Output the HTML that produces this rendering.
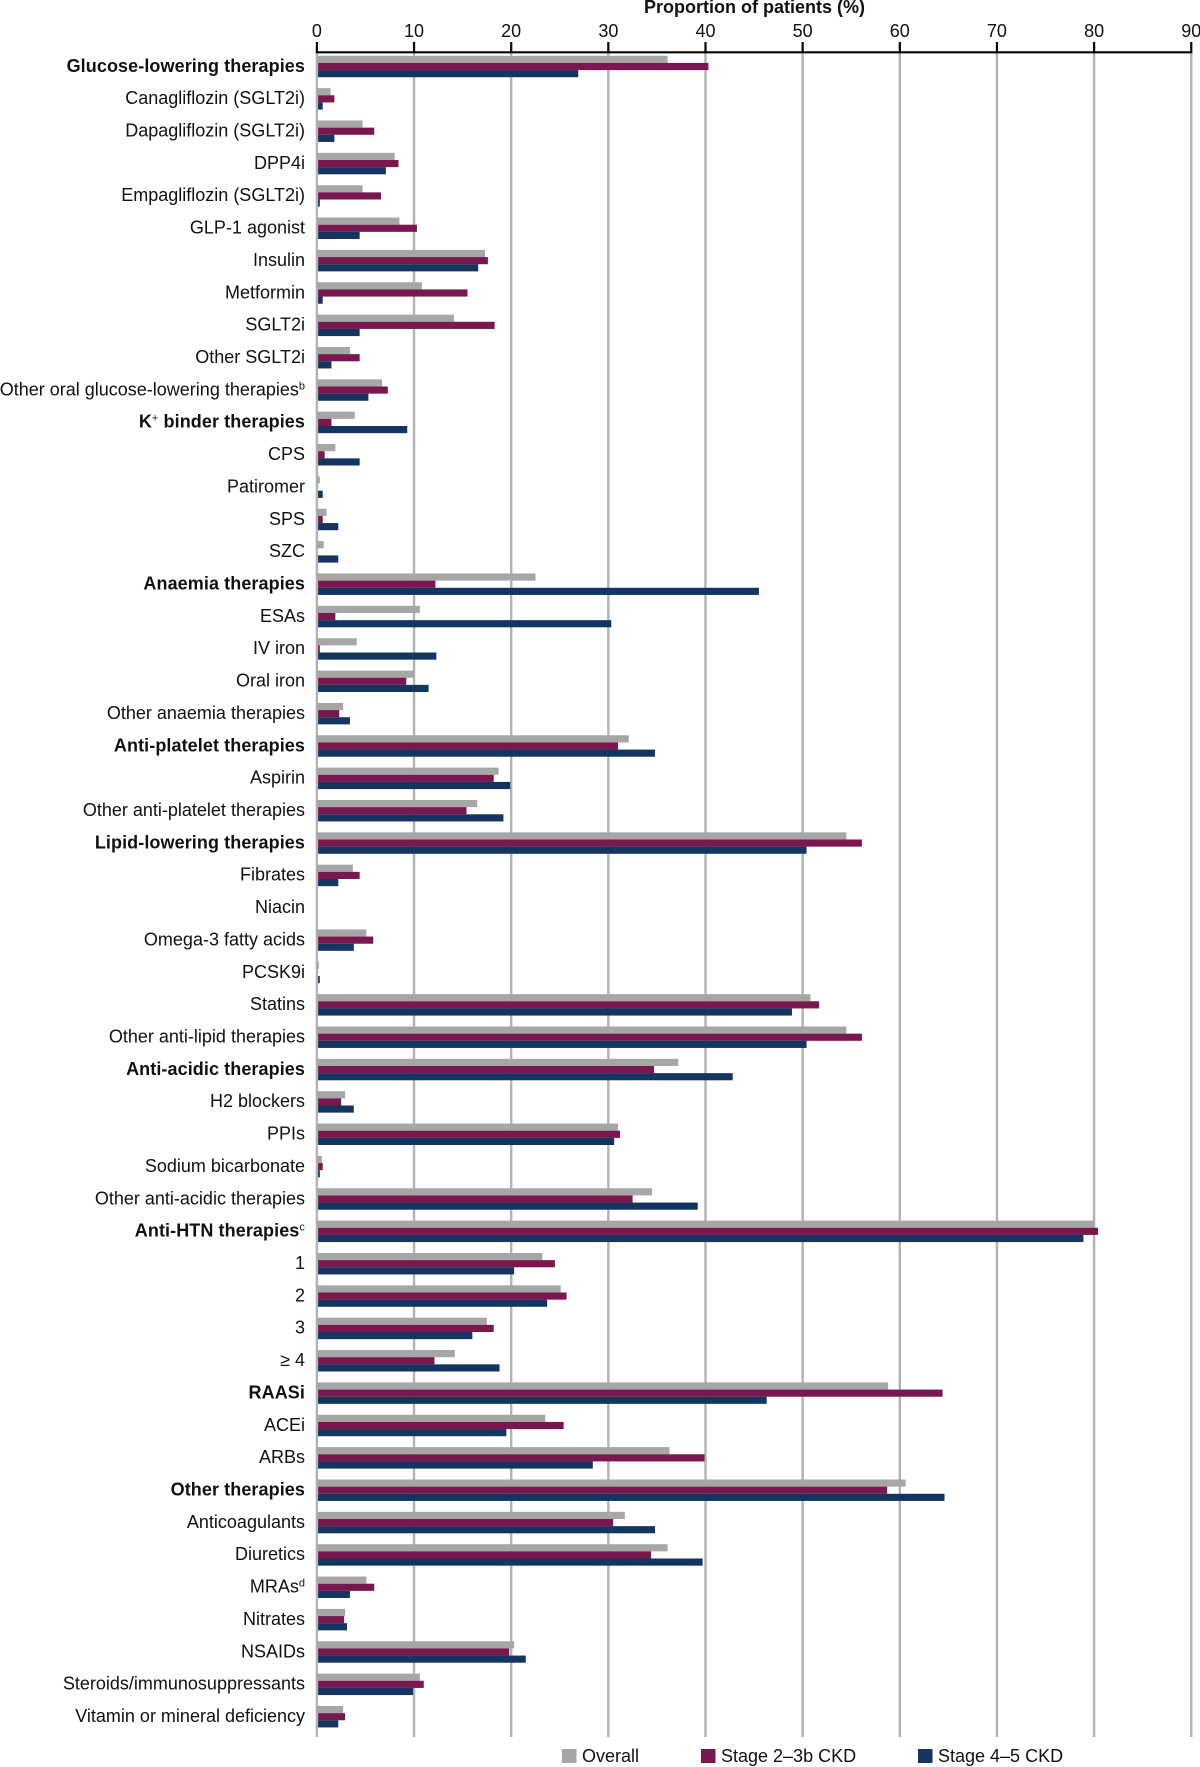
<!DOCTYPE html>
<html lang="en">
<head>
<meta charset="utf-8">
<title>Proportion of patients by therapy</title>
<style>
html,body{margin:0;padding:0;background:#fff;width:1200px;height:1767px;overflow:hidden}
svg{display:block;font-family:"Liberation Sans",Arial,sans-serif;filter:blur(0.35px)}
text{fill:#111}
</style>
</head>
<body>
<svg id="chart" xmlns="http://www.w3.org/2000/svg" width="1200" height="1767" viewBox="0 0 1200 1767"></svg>
<script>
const categories = [
"Glucose-lowering therapies","Canagliflozin (SGLT2i)","Dapagliflozin (SGLT2i)","DPP4i","Empagliflozin (SGLT2i)","GLP-1 agonist","Insulin","Metformin","SGLT2i","Other SGLT2i","Other oral glucose-lowering therapies^b^",
"K^+^ binder therapies","CPS","Patiromer","SPS","SZC",
"Anaemia therapies","ESAs","IV iron","Oral iron","Other anaemia therapies",
"Anti-platelet therapies","Aspirin","Other anti-platelet therapies",
"Lipid-lowering therapies","Fibrates","Niacin","Omega-3 fatty acids","PCSK9i","Statins","Other anti-lipid therapies",
"Anti-acidic therapies","H2 blockers","PPIs","Sodium bicarbonate","Other anti-acidic therapies",
"Anti-HTN therapies^c^","1","2","3","≥ 4",
"RAASi","ACEi","ARBs",
"Other therapies","Anticoagulants","Diuretics","MRAs^d^","Nitrates","NSAIDs","Steroids/immunosuppressants","Vitamin or mineral deficiency"
];
const boldCategories = ["Glucose-lowering therapies","K^+^ binder therapies","Anaemia therapies","Anti-platelet therapies","Lipid-lowering therapies","Anti-acidic therapies","Anti-HTN therapies^c^","RAASi","Other therapies"];
const overall = [36.1,1.4,4.7,8.0,4.7,8.5,17.3,10.8,14.1,3.4,6.7, 3.9,1.9,0.3,1.0,0.7, 22.5,10.6,4.1,10.0,2.7, 32.1,18.7,16.5, 54.5,3.7,0,5.1,0.2,50.8,54.5, 37.2,2.9,31.0,0.5,34.5, 80.0,23.2,25.1,17.5,14.2, 58.8,23.5,36.3, 60.6,31.7,36.1,5.1,2.9,20.3,10.6,2.7];
const stage23b = [40.3,1.8,5.9,8.4,6.6,10.3,17.6,15.5,18.3,4.4,7.3, 1.5,0.8,0,0.6,0, 12.2,1.9,0.3,9.2,2.3, 31.0,18.2,15.4, 56.1,4.4,0,5.8,0,51.7,56.1, 34.7,2.5,31.2,0.6,32.5, 80.4,24.5,25.7,18.2,12.1, 64.4,25.4,39.9, 58.7,30.5,34.4,5.9,2.8,19.8,11.0,2.9];
const stage45 = [26.9,0.6,1.8,7.1,0.3,4.4,16.6,0.6,4.4,1.5,5.3, 9.3,4.4,0.6,2.2,2.2, 45.5,30.3,12.3,11.5,3.4, 34.8,19.9,19.2, 50.4,2.2,0,3.8,0.3,48.9,50.4, 42.8,3.8,30.6,0.3,39.2, 78.9,20.3,23.7,16.0,18.8, 46.3,19.5,28.4, 64.6,34.8,39.7,3.4,3.1,21.5,9.9,2.2];
const xTicks = [0,10,20,30,40,50,60,70,80,90];
const seriesNames = ["Overall","Stage 2–3b CKD","Stage 4–5 CKD"];

const NS = "http://www.w3.org/2000/svg";
const svg = document.getElementById("chart");
const seriesValues = [overall, stage23b, stage45];
const seriesColors = ["#a6a6a6","#7a174e","#13355f"];
const X0 = 316.9, UNIT = 9.715, Y0 = 66.5, STEP = 32.357, BAR_H = 7.15;
const AXIS_Y = 52.3, GRID_BOTTOM = 1737, LABEL_X = 305;
const xScale = v => X0 + v * UNIT;
const yScale = i => Y0 + i * STEP;
const slug = s => s.toLowerCase().replace(/\^/g,"").replace(/[^a-z0-9]+/g,"-").replace(/^-|-$/g,"") || "item";

function make(tag, attrs, parent) {
  const el = document.createElementNS(NS, tag);
  for (const k in attrs) el.setAttribute(k, attrs[k]);
  (parent || svg).appendChild(el);
  return el;
}

// gridlines
xTicks.forEach(t => {
  const g = make("line", {x1:xScale(t), x2:xScale(t), y1:AXIS_Y, y2:GRID_BOTTOM, stroke:"#b3b3b3", "stroke-width":2.4});
  
  
});

// bars
categories.forEach((c, i) => {
  const group = make("g", {});
  
  
  seriesValues.forEach((vals, s) => {
    const v = vals[i];
    if (v <= 0) return;
    const left = X0 + 1.2;
    const w = Math.max(xScale(v) - left, 0.8);
    const r = make("rect", {x:left - (s === 0 ? 1.2 : 0), y:yScale(i) - 1.5 * BAR_H + s * BAR_H, width:w + (s === 0 ? 1.2 : 0), height:BAR_H, fill:seriesColors[s]}, group);
    
    
  });
  // category label
  const bold = boldCategories.includes(c);
  const label = make("text", {x:LABEL_X, y:yScale(i) + 5.3, "text-anchor":"end", "font-size":18, "font-weight":bold ? 700 : 400, "letter-spacing":bold ? 0.09 : 0});
  
  
  c.split("^").forEach((part, p) => {
    if (!part) return;
    const sup = p % 2 === 1;
    const ts = make("tspan", sup ? {"font-size":11, "font-weight":400, dy:-6} : {dy: p > 0 ? 6 : 0}, label);
    ts.textContent = part;
  });
});

// top axis
const axis = make("line", {x1:X0 - 1, x2:xScale(90) + 1, y1:AXIS_Y, y2:AXIS_Y, stroke:"#000", "stroke-width":2.2});


xTicks.forEach(t => {
  const tick = make("line", {x1:xScale(t), x2:xScale(t), y1:42, y2:AXIS_Y, stroke:"#000", "stroke-width":2.2});
  
  
  const lab = make("text", {x:xScale(t), y:37, "text-anchor":"middle", "font-size":18});
  lab.textContent = t;
  
  
});
const title = make("text", {x:754.5, y:13, "text-anchor":"middle", "font-size":18, "font-weight":700});
title.textContent = "Proportion of patients (%)";



// legend
const legendSwatchX = [562, 701, 918];
seriesNames.forEach((n, s) => {
  const g = make("g", {});
  
  
  const sw = make("rect", {x:legendSwatchX[s], y:1749, width:14.5, height:14, fill:seriesColors[s]}, g);
  
  
  const tx = make("text", {x:legendSwatchX[s] + 20, y:1762, "font-size":18}, g);
  tx.textContent = n;
  
  
});
</script>
</body>
</html>
